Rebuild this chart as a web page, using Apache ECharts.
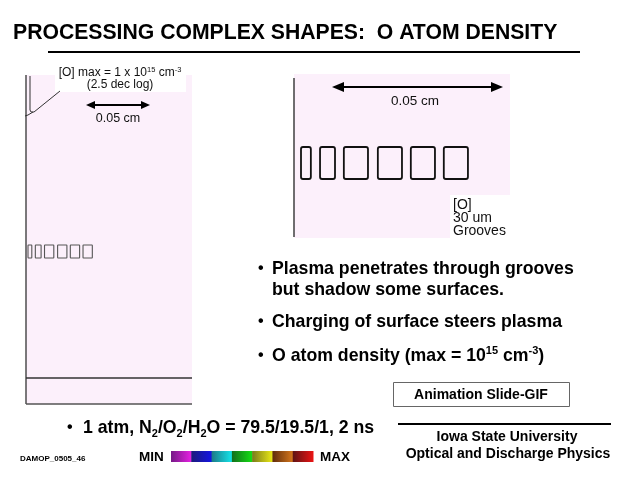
<!DOCTYPE html>
<html><head><meta charset="utf-8">
<script src="https://cdn.jsdelivr.net/npm/echarts@6/dist/echarts.min.js"></script>
<style>html,body{margin:0;padding:0;background:#fff}#c{width:638px;height:478px}</style>
</head><body><div id="c"></div>
<script>
// ---- data ----
const grooveStart = [0, 56, 126, 226, 323, 420];   // um
const grooveEnd   = [29, 100, 197, 297, 394, 491];  // um
const grooveDepth = 94;                             // um
const colorbarStops = [
  ['#751a86', '#e820e4'],
  ['#1c1c7a', '#1414e6'],
  ['#1c7a86', '#14e6ec'],
  ['#146e1c', '#14e014'],
  ['#7a7a1c', '#ecec14'],
  ['#5e2c0c', '#d8781c'],
  ['#5e1414', '#ec1414']
];
const titleText = 'PROCESSING COMPLEX SHAPES:  O ATOM DENSITY';
const bulletLines = [
  'Plasma penetrates through grooves',
  'but shadow some surfaces.',
  'Charging of surface steers plasma'
];

const FONT = '"Liberation Sans", Arial, sans-serif';
const chart = echarts.init(document.getElementById('c'), null, {renderer: 'canvas'});

const grooveData = grooveStart.map((s, i) => [s, grooveEnd[i], grooveDepth]);

function grooveRenderer(lineWidth, stroke, r) {
  return function (params, api) {
    const p0 = api.coord([api.value(0), api.value(2)]);
    const p1 = api.coord([api.value(1), 0]);
    return {
      type: 'rect',
      shape: {x: p0[0], y: p0[1], width: p1[0] - p0[0], height: p1[1] - p0[1], r: r},
      style: {fill: 'rgba(0,0,0,0)', stroke: stroke, lineWidth: lineWidth}
    };
  };
}

function txt(x, y, text, size, opts) {
  opts = opts || {};
  return {
    type: 'text', x: x, y: y, z: 20,
    scaleX: opts.scaleX || 1,
    style: Object.assign({
      text: text, fontSize: size, fontFamily: FONT,
      fontWeight: opts.weight || 'bold', fill: opts.fill || '#000',
      align: opts.align || 'left', verticalAlign: 'middle'
    }, opts.style || {})
  };
}
function line(points, w, color, z) {
  return {type: 'polyline', z: z || 10, shape: {points: points},
          style: {stroke: color || '#000', lineWidth: w || 1, fill: null}};
}
function arrow(x1, x2, y, head, hw) {
  return [
    line([[x1 + head - 1, y], [x2 - head + 1, y]], 2, '#000', 15),
    {type: 'polygon', z: 15, shape: {points: [[x1, y], [x1 + head, y - hw], [x1 + head, y + hw]]}, style: {fill: '#000'}},
    {type: 'polygon', z: 15, shape: {points: [[x2, y], [x2 - head, y - hw], [x2 - head, y + hw]]}, style: {fill: '#000'}}
  ];
}

const PINK = '#fcf0fb';
const graphics = [];
// panels
graphics.push({type: 'rect', z: 1, shape: {x: 26, y: 75, width: 166, height: 329}, style: {fill: PINK}});
graphics.push({type: 'rect', z: 1, shape: {x: 294, y: 74, width: 216, height: 164}, style: {fill: PINK}});
graphics.push({type: 'rect', z: 2, shape: {x: 55, y: 62, width: 131, height: 30}, style: {fill: '#fff'}});
graphics.push({type: 'rect', z: 2, shape: {x: 450, y: 195, width: 61, height: 43}, style: {fill: '#fff'}});
// left panel lines
graphics.push(line([[26, 75], [26, 404]], 1.3, '#333'));
graphics.push(line([[26, 378], [192, 378]], 1.3, '#333'));
graphics.push(line([[26, 404], [192, 404]], 1.3, '#555'));
graphics.push(line([[30, 76], [30, 110], [31, 112], [34, 112], [60, 91]], 1, '#333'));
graphics.push(line([[25, 116], [28, 115], [33, 112]], 1, '#333'));
// right panel line
graphics.push(line([[294, 78], [294, 237]], 1.3, '#222'));
// title
graphics.push(txt(13, 33, titleText, 21.2));
graphics.push(line([[48, 52], [580, 52]], 2.2, '#000'));
// left labels
graphics.push({
  type: 'text', x: 120, y: 66, z: 20,
  style: {
    text: '{n|[O] max = 1 x 10}{s|15}{n| cm}{s|-3}', align: 'center', verticalAlign: 'top',
    fontFamily: FONT, fill: '#111',
    rich: {
      n: {fontSize: 12, fontFamily: FONT, lineHeight: 13, fill: '#111'},
      s: {fontSize: 7.5, fontFamily: FONT, lineHeight: 8, verticalAlign: 'top', fill: '#111'}
    }
  }
});
graphics.push(txt(120, 85, '(2.5 dec log)', 12, {weight: 'normal', align: 'center', fill: '#111'}));
arrow(86, 150, 105, 9, 4).forEach(g => graphics.push(g));
graphics.push(txt(118, 119, '0.05 cm', 12.5, {weight: 'normal', align: 'center', fill: '#111'}));
// right labels
arrow(332, 503, 87, 12, 5).forEach(g => graphics.push(g));
graphics.push(txt(415, 101, '0.05 cm', 13.5, {weight: 'normal', align: 'center', fill: '#111'}));
graphics.push(txt(453, 205, '[O]', 14, {weight: 'normal', fill: '#111'}));
graphics.push(txt(453, 218, '30 um', 14, {weight: 'normal', fill: '#111'}));
graphics.push(txt(453, 231, 'Grooves', 14, {weight: 'normal', fill: '#111'}));
// bullets
const BS = 17.7;
graphics.push(txt(258, 269, '•', 16));
graphics.push(txt(272, 269, bulletLines[0], BS));
graphics.push(txt(272, 290, bulletLines[1], BS));
graphics.push(txt(258, 322, '•', 16));
graphics.push(txt(272, 322, bulletLines[2], BS));
graphics.push(txt(258, 356, '•', 16));
graphics.push({
  type: 'text', x: 272, y: 345, z: 20,
  style: {
    text: '{n|O atom density (max = 10}{s|15}{n| cm}{s|-3}{n|)}', verticalAlign: 'top',
    fontFamily: FONT, fontWeight: 'bold', fill: '#000',
    rich: {
      n: {fontSize: BS, fontFamily: FONT, fontWeight: 'bold', lineHeight: 22},
      s: {fontSize: 11, fontFamily: FONT, fontWeight: 'bold', lineHeight: 16, verticalAlign: 'top'}
    }
  }
});
graphics.push(txt(67, 428, '•', 16));
graphics.push({
  type: 'text', x: 83, y: 417, z: 20,
  style: {
    text: '{n|1 atm, N}{b|2}{n|/O}{b|2}{n|/H}{b|2}{n|O = 79.5/19.5/1, 2 ns}', verticalAlign: 'top',
    fontFamily: FONT, fontWeight: 'bold', fill: '#000',
    rich: {
      n: {fontSize: BS, fontFamily: FONT, fontWeight: 'bold', lineHeight: 22},
      b: {fontSize: 11, fontFamily: FONT, fontWeight: 'bold', lineHeight: 14, verticalAlign: 'bottom'}
    }
  }
});
// animation box
graphics.push({type: 'rect', z: 10, shape: {x: 393.5, y: 382.5, width: 176, height: 24}, style: {fill: '#fff', stroke: '#666', lineWidth: 1}});
graphics.push(txt(481, 395, 'Animation Slide-GIF', 14, {align: 'center'}));
// footer
graphics.push(line([[398, 424], [611, 424]], 2.2, '#000'));
graphics.push(txt(507, 437, 'Iowa State University', 14, {align: 'center'}));
graphics.push(txt(508, 454, 'Optical and Discharge Physics', 14, {align: 'center'}));
graphics.push(txt(20, 459, 'DAMOP_0505_46', 8));
graphics.push(txt(139, 457, 'MIN', 13.5));
graphics.push(txt(320, 457, 'MAX', 13.5));
// colorbar
const cbX = 171, cbW = 142, cbY = 451, cbH = 11;
const segW = cbW / colorbarStops.length;
colorbarStops.forEach((c, i) => {
  graphics.push({
    type: 'rect', z: 10,
    shape: {x: cbX + i * segW, y: cbY, width: segW + 0.5, height: cbH},
    style: {fill: new echarts.graphic.LinearGradient(0, 0, 1, 0, [{offset: 0, color: c[0]}, {offset: 1, color: c[1]}])}
  });
});

const option = {
  animation: false,
  backgroundColor: '#fff',
  grid: [
    {left: 301, top: 147, width: 170, height: 32},
    {left: 28, top: 245, width: 65.5, height: 13}
  ],
  xAxis: [
    {gridIndex: 0, type: 'value', min: 0, max: 500, show: false},
    {gridIndex: 1, type: 'value', min: 0, max: 500, show: false}
  ],
  yAxis: [
    {gridIndex: 0, type: 'value', min: 0, max: grooveDepth, show: false},
    {gridIndex: 1, type: 'value', min: 0, max: grooveDepth, show: false}
  ],
  series: [
    {type: 'custom', xAxisIndex: 0, yAxisIndex: 0, z: 12, renderItem: grooveRenderer(1.8, '#111', 2),
     data: grooveData, encode: {x: [0, 1], y: 2}},
    {type: 'custom', xAxisIndex: 1, yAxisIndex: 1, z: 12, renderItem: grooveRenderer(1.1, '#555', 0.5),
     data: grooveData, encode: {x: [0, 1], y: 2}}
  ],
  graphic: {elements: graphics}
};
chart.setOption(option);
</script>
</body></html>
